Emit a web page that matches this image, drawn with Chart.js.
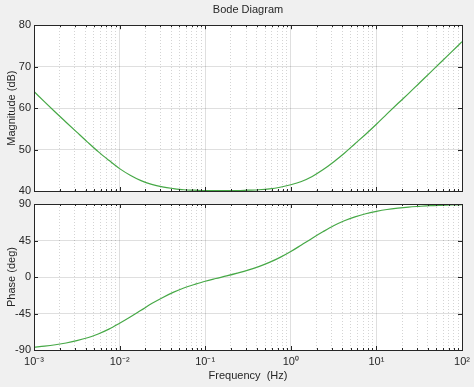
<!DOCTYPE html>
<html>
<head>
<meta charset="utf-8">
<script src="https://cdn.jsdelivr.net/npm/chart.js@4.4.0/dist/chart.umd.min.js"></script>
<style>
  html, body { margin: 0; padding: 0; background: #f0f0f0; }
  #wrap { position: relative; width: 474px; height: 387px; overflow: hidden; }
  canvas { position: absolute; left: 0; }
  #magChart { top: 0; }
  #phaseChart { top: 195px; }
</style>
</head>
<body>
<div id="wrap">
  <canvas id="magChart" width="474" height="200"></canvas>
  <canvas id="phaseChart" width="474" height="192"></canvas>
</div>
<script>
// values (1/8 decade steps)
const freqHz = [0.001, 0.00133, 0.00178, 0.00237, 0.00316, 0.00422, 0.00562, 0.0075,
                0.01, 0.0133, 0.0178, 0.0237, 0.0316, 0.0422, 0.0562, 0.075,
                0.1, 0.133, 0.178, 0.237, 0.316, 0.422, 0.562, 0.75,
                1, 1.33, 1.78, 2.37, 3.16, 4.22, 5.62, 7.5,
                10, 13.3, 17.8, 23.7, 31.6, 42.2, 56.2, 75, 100];
const magDb = [64.0, 61.5, 59.0, 56.6, 54.2, 51.8, 49.5, 47.4,
               45.4, 43.8, 42.5, 41.6, 41.0, 40.6, 40.3, 40.2,
               40.1, 40.1, 40.1, 40.1, 40.2, 40.3, 40.5, 40.9,
               41.5, 42.3, 43.5, 45.1, 47.0, 49.1, 51.4, 53.7,
               56.1, 58.6, 61.1, 63.5, 66.0, 68.5, 71.0, 73.5, 76.0];
const phaseDeg = [-86.5, -85.2, -83.5, -81.4, -78.5, -74.9, -70.2, -64.3,
                  -57.0, -49.3, -41, -32.8, -25.5, -19.0, -13.5, -9.2,
                  -5.2, -1.9, 1.3, 4.7, 8.4, 12.8, 18, 24.2,
                  31.4, 39.5, 47.9, 55.7, 63.1, 69.3, 74.1, 78.0,
                  80.9, 83.2, 84.9, 86.2, 87.1, 87.9, 88.4, 88.8, 89.1];

const decadeTicks = [0.001, 0.01, 0.1, 1, 10, 100];
const decadeLabels = ['10⁻³', '10⁻²', '10⁻¹', '10⁰', '10¹', '10²'];
const magTicks = [40, 50, 60, 70, 80];
const phaseTicks = [-90, -45, 0, 45, 90];

// 2..9 inside every decade, for the dotted grid
const minorTicks = [];
decadeTicks.slice(0, -1).forEach(d => {
  for (let k = 2; k <= 9; k++) minorTicks.push(+(d * k).toPrecision(3));
});

const FONT = '"Liberation Sans", Arial, sans-serif';
const INK = '#262626';
const LINE = '#46a846';

const framePlugin = {
  id: 'frame',
  beforeDraw(chart) {
    const { ctx, chartArea: a } = chart;
    ctx.save();
    ctx.fillStyle = '#ffffff';
    ctx.fillRect(a.left, a.top, a.right - a.left, a.bottom - a.top);
    ctx.restore();
  },
  afterDraw(chart) {
    const { ctx, chartArea: a, scales } = chart;
    ctx.save();
    ctx.strokeStyle = INK;
    ctx.lineWidth = 1;
    ctx.beginPath();
    const seg = (x1, y1, x2, y2) => { ctx.moveTo(x1, y1); ctx.lineTo(x2, y2); };
    const xTicks = (scale, len) => scale.ticks.forEach(t => {
      const px = Math.round(scale.getPixelForValue(t.value)) + 0.5;
      seg(px, a.top, px, a.top + len);
      seg(px, a.bottom, px, a.bottom - len);
    });
    xTicks(scales.x, 4);
    xTicks(scales.xm, 2);
    scales.y.ticks.forEach(t => {
      const py = Math.round(scales.y.getPixelForValue(t.value)) + 0.5;
      seg(a.left, py, a.left + 4, py);
      seg(a.right, py, a.right - 4, py);
    });
    ctx.stroke();
    ctx.strokeRect(Math.round(a.left) + 0.5, Math.round(a.top) + 0.5,
                   Math.round(a.right - a.left), Math.round(a.bottom - a.top));
    ctx.restore();
  }
};

function makeChart(id, values, yTicks, yTitle, o) {
  return new Chart(document.getElementById(id), {
    type: 'line',
    data: {
      datasets: [{
        data: freqHz.map((f, i) => ({ x: f, y: values[i] })),
        borderColor: LINE,
        borderWidth: 1.2,
        pointRadius: 0,
        cubicInterpolationMode: 'monotone',
        fill: false
      }]
    },
    options: {
      responsive: false,
      animation: false,
      events: [],
      layout: { padding: { left: 0, right: 12, top: o.padTop, bottom: 0 } },
      plugins: {
        legend: { display: false },
        tooltip: { enabled: false },
        title: o.title
      },
      scales: {
        x: {
          type: 'logarithmic',
          min: 0.001, max: 100,
          afterBuildTicks: s => { s.ticks = decadeTicks.map(v => ({ value: v, major: true })); },
          afterFit: s => { s.height = o.xHeight; s.paddingLeft = 0; s.paddingRight = 0; },
          grid: { color: 'rgba(38,38,38,0.15)', drawTicks: false },
          border: { display: false },
          ticks: {
            display: o.showX,
            autoSkip: false,
            maxRotation: 0,
            padding: 5,
            color: INK,
            font: { family: FONT, size: 11 },
            callback: (v, i) => decadeLabels[i]
          },
          title: {
            display: o.showX,
            text: 'Frequency  (Hz)',
            color: INK,
            font: { family: FONT, size: 11 },
            padding: { top: 0, bottom: 4 }
          }
        },
        xm: {
          type: 'logarithmic',
          axis: 'x',
          position: 'top',
          min: 0.001, max: 100,
          afterBuildTicks: s => { s.ticks = minorTicks.map(v => ({ value: v })); },
          afterFit: s => { s.height = 0; s.paddingLeft = 0; s.paddingRight = 0; },
          ticks: { display: false },
          grid: { color: 'rgba(38,38,38,0.2)', drawTicks: false },
          border: { display: false, dash: [1, 2] }
        },
        y: {
          min: yTicks[0], max: yTicks[yTicks.length - 1],
          afterBuildTicks: s => { s.ticks = yTicks.map(v => ({ value: v })); },
          afterFit: s => { s.width = 34; s.paddingTop = 0; s.paddingBottom = 0; },
          grid: { color: 'rgba(38,38,38,0.15)', drawTicks: false },
          border: { display: false },
          ticks: {
            padding: 3,
            color: INK,
            font: { family: FONT, size: 11 },
            callback: v => String(v)
          },
          title: {
            display: true,
            text: yTitle,
            color: INK,
            font: { family: FONT, size: 11 },
            padding: { top: 5, bottom: 0 }
          }
        }
      }
    },
    plugins: [framePlugin]
  });
}

makeChart('magChart', magDb, magTicks, 'Magnitude (dB)', {
  padTop: 0,
  xHeight: 9,
  showX: false,
  title: {
    display: true,
    fullSize: false,
    text: 'Bode Diagram',
    color: INK,
    font: { family: FONT, size: 11, weight: 'normal' },
    padding: { top: 3, bottom: 9 }
  }
});

makeChart('phaseChart', phaseDeg, phaseTicks, 'Phase (deg)', {
  padTop: 9,
  xHeight: 37,
  showX: true,
  title: { display: false }
});
</script>
</body>
</html>
